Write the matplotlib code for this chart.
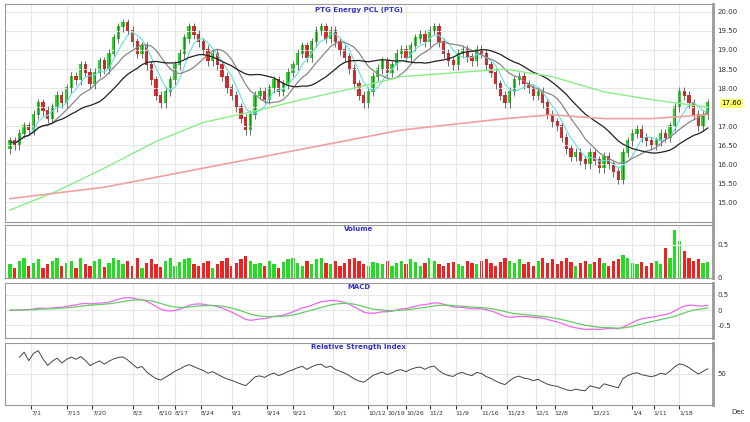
import numpy as np
import pandas as pd
import matplotlib
matplotlib.use("Agg")
import matplotlib.pyplot as plt

closes = [16.6,16.5,16.8,17.0,16.9,17.3,17.6,17.4,17.2,17.5,17.8,17.6,18.0,18.3,18.2,18.6,18.4,18.1,18.4,18.7,18.5,18.9,19.3,19.6,19.7,
          19.5,19.2,18.9,19.1,18.6,18.2,17.8,17.6,17.9,18.2,18.6,18.9,19.3,19.6,19.4,
          19.2,19.0,18.7,18.9,18.6,18.3,18.0,17.8,17.5,17.2,16.9,17.3,17.8,
          17.9,17.7,18.0,18.2,17.9,18.1,18.4,18.6,18.9,19.1,18.8,19.2,19.5,19.6,19.3,
          19.5,19.2,19.0,18.8,18.5,18.1,17.8,17.6,17.9,18.3,18.5,
          18.7,18.4,18.6,18.9,19.0,18.8,19.1,19.3,19.4,19.2,19.5,19.6,19.2,18.9,18.7,
          18.6,18.9,19.0,18.8,18.7,19.0,18.9,18.6,18.4,18.1,17.8,17.6,17.9,
          18.2,18.3,18.1,18.0,17.8,17.9,17.6,17.3,17.1,17.0,16.7,16.4,16.2,16.3,16.1,
          16.0,16.3,16.1,15.9,16.2,16.0,15.8,15.6,16.3,16.6,16.8,
          16.9,16.7,16.6,16.5,16.6,16.8,16.7,17.0,17.5,17.9,17.8,17.6,17.3,17.0,17.3,17.6]
first_open = 16.4
volumes = [0.20,0.15,0.25,0.30,0.18,0.22,0.28,0.15,0.20,0.25,0.30,0.18,0.22,0.26,0.15,0.30,0.20,0.18,0.25,0.28,0.16,0.22,0.30,0.27,0.20,
           0.25,0.18,0.30,0.15,0.22,0.28,0.20,0.16,0.26,0.30,0.18,0.24,0.28,0.30,0.20,
           0.18,0.22,0.26,0.15,0.20,0.25,0.30,0.18,0.22,0.28,0.33,0.25,0.20,
           0.22,0.18,0.26,0.20,0.15,0.24,0.28,0.30,0.22,0.18,0.26,0.20,0.28,0.30,0.22,
           0.20,0.25,0.18,0.22,0.28,0.30,0.26,0.20,0.18,0.24,0.22,
           0.20,0.26,0.18,0.22,0.25,0.20,0.28,0.24,0.18,0.22,0.30,0.26,0.20,0.18,0.22,
           0.24,0.20,0.18,0.26,0.22,0.20,0.25,0.28,0.22,0.18,0.24,0.30,0.26,
           0.22,0.28,0.20,0.24,0.18,0.26,0.30,0.22,0.28,0.20,0.25,0.30,0.24,0.18,0.22,
           0.26,0.20,0.24,0.30,0.22,0.18,0.26,0.28,0.35,0.30,0.22,
           0.20,0.24,0.18,0.22,0.26,0.20,0.45,0.30,0.72,0.55,0.40,0.30,0.25,0.28,0.22,0.24]
ma50_idx = [0,10,20,31,41,52,62,73,83,94,105,115,126,136,148]
ma50_val = [14.8,15.3,15.9,16.6,17.1,17.4,17.7,18.0,18.3,18.4,18.5,18.3,17.9,17.7,17.5]
ma200_idx = [0,20,41,62,83,105,115,126,136,148]
ma200_val = [15.1,15.4,15.9,16.4,16.9,17.2,17.3,17.2,17.2,17.3]
tick_labels = ["7/1","7/13","7/20","8/3","8/10","8/17","8/24","9/1","9/14","9/21","10/1","10/12","10/19",
               "10/26","11/2","11/9","11/16","11/23","12/1","12/8","12/21","1/4","1/11","1/18"]
tick_idx = [4.5,12,17.5,26,31.5,35,40.5,47,54.5,60,68.5,76,80,84,89,94.5,100,105.5,111.5,115.5,123.5,132,136.5,142]

c = np.array(closes)
o = np.r_[first_open, c[:-1]]
n = len(c)
x = np.arange(n)
up = c >= o
cols = np.where(up, "#22dd22", "#ee2222")
s = pd.Series(c)

def title(a, t):
    a.text(0.5, 0.985, t, transform=a.transAxes, ha="center", va="top",
           fontsize=5, color="#3333cc", fontweight="bold")

fig = plt.figure(figsize=(7.5, 4.22), dpi=100)
L, W = 0.007, 0.943
ax1 = fig.add_axes([L, 0.475, W, 0.515])
ax2 = fig.add_axes([L, 0.342, W, 0.125])
ax3 = fig.add_axes([L, 0.200, W, 0.130])
ax4 = fig.add_axes([L, 0.040, W, 0.148])
for a in (ax1, ax2, ax3, ax4):
    a.set_xlim(-1, n)
    a.grid(True, color="#e6e6e6", lw=0.8)
    a.yaxis.tick_right()
    a.tick_params(labelsize=5, length=0, colors="#333333")
    a.set_xticks(tick_idx)
    a.set_xticklabels([])
    for sp in a.spines.values():
        sp.set_color("#999999")
    a.spines["right"].set_linewidth(2)

hi = np.maximum(o, c) + 0.12
lo = np.minimum(o, c) - 0.12
ax1.vlines(x, lo, hi, color="#555555", lw=0.6)
ax1.bar(x, np.abs(c - o) + 0.03, bottom=np.minimum(o, c), color=cols, width=0.7)
ax1.plot(x, s.rolling(5, min_periods=1).mean(), color="#66dddd", lw=0.8)
ax1.plot(x, s.rolling(10, min_periods=1).mean(), color="#888888", lw=0.9)
ax1.plot(x, s.rolling(20, min_periods=1).mean(), color="#222222", lw=0.9)
ax1.plot(ma50_idx, ma50_val, color="#88ee88", lw=1.0)
ax1.plot(ma200_idx, ma200_val, color="#f0a0a0", lw=1.2)
ax1.set_ylim(14.5, 20.2)
yt = np.arange(15, 20.01, 0.5)
ax1.set_yticks(yt)
ax1.set_yticklabels(["" if abs(v - 17.5) < 1e-6 else f"{v:.2f}" for v in yt])
ax1.text(1.012, c[-1], f"{c[-1]:.2f}", transform=ax1.get_yaxis_transform(), fontsize=5, va="center",
         bbox=dict(fc="#ffff66", ec="none", pad=1))
title(ax1, "PTG Energy PCL (PTG)")

ax2.bar(x, volumes, color=cols, width=0.7)
ax2.set_ylim(0, 0.8)
ax2.set_yticks([0, 0.5])
ax2.set_yticklabels(["0", "0.5"])
title(ax2, "Volume")

macd = s.ewm(span=12).mean() - s.ewm(span=26).mean()
sig = macd.ewm(span=9).mean()
ax3.plot(x, macd, color="#ee66ee", lw=0.9)
ax3.plot(x, sig, color="#66cc66", lw=0.9)
ax3.set_ylim(-0.9, 0.9)
ax3.set_yticks([-0.5, 0, 0.5])
ax3.set_yticklabels(["-0.5", "0", "0.5"])
title(ax3, "MACD")

d = s.diff().fillna(0)
g = d.clip(lower=0).ewm(alpha=1/14).mean()
l = (-d.clip(upper=0)).ewm(alpha=1/14).mean()
rsi = (100 - 100 / (1 + g / l.replace(0, np.nan))).fillna(50)
ax4.plot(x[2:], rsi[2:], color="#444444", lw=0.7)
ax4.set_ylim(0, 100)
ax4.set_yticks([50])
title(ax4, "Relative Strength Index")
ax4.set_xticklabels(tick_labels, fontsize=4.5, ha="left")
ax4.tick_params(axis="x", length=3, pad=1)
fig.text(0.975, 0.02, "Dec", fontsize=5, color="#333333")

fig.savefig("out.png", dpi=100, facecolor="white")
